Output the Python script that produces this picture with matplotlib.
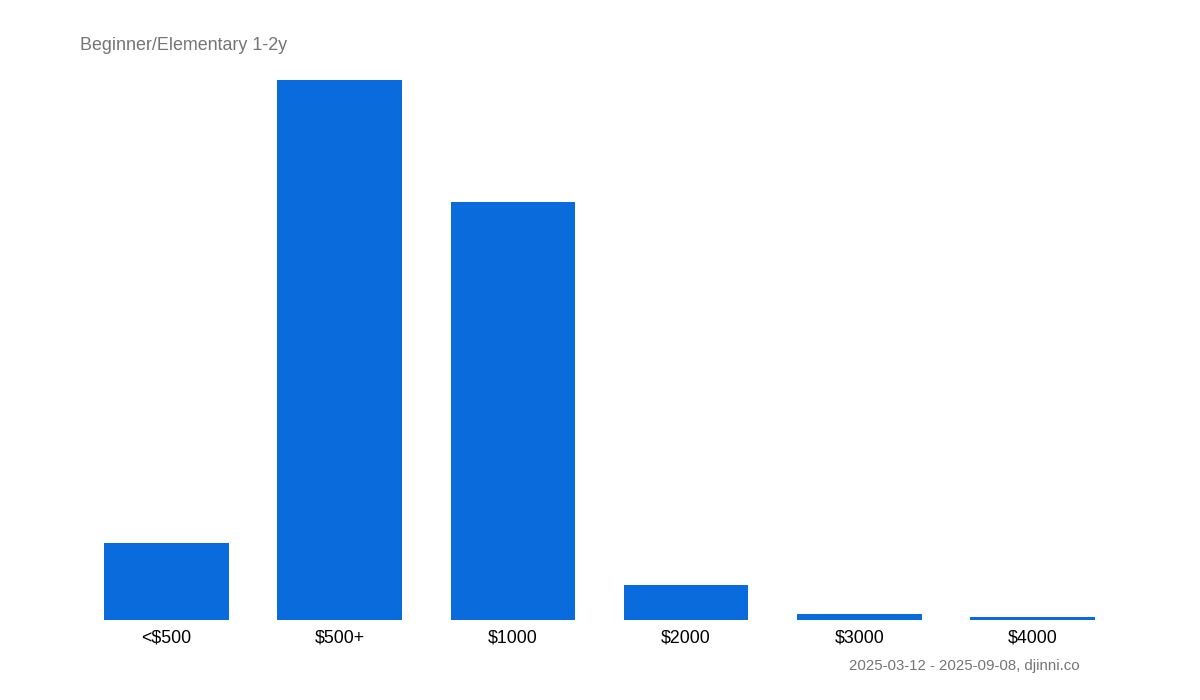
import matplotlib.pyplot as plt
import numpy as np

plt.rcParams['font.family'] = ['Liberation Sans', 'DejaVu Sans']

# salary buckets and share of candidates (relative)
categories = ['<$500', '$500+', '$1000', '$2000', '$3000', '$4000']
values = [14.3, 100.0, 77.4, 6.5, 1.2, 0.6]

title = 'Beginner/Elementary 1-2y'
footer = '2025-03-12 - 2025-09-08, djinni.co'

fig = plt.figure(figsize=(12, 7), dpi=100)
ax = fig.add_axes([80 / 1200, 80 / 700, 1039 / 1200, 540 / 700])

x = np.arange(len(categories))
ax.bar(x, values, width=0.72, color='#0a6bdc')

ax.set_xlim(-0.5, len(categories) - 0.5)
ax.set_ylim(0, max(values))
ax.set_xticks(x)
ax.set_xticklabels(categories, fontsize=12.8, color='black')
ax.tick_params(axis='x', length=0, pad=6.5)
ax.set_yticks([])
for s in ax.spines.values():
    s.set_visible(False)

fig.text(80 / 1200, 1 - 46 / 700, title, fontsize=12.9, color='#757575',
         ha='left', va='center')
fig.text(1080 / 1200, 1 - 666 / 700, footer, fontsize=10.8, color='#757575',
         ha='right', va='center')

fig.savefig('out.png', dpi=100)
